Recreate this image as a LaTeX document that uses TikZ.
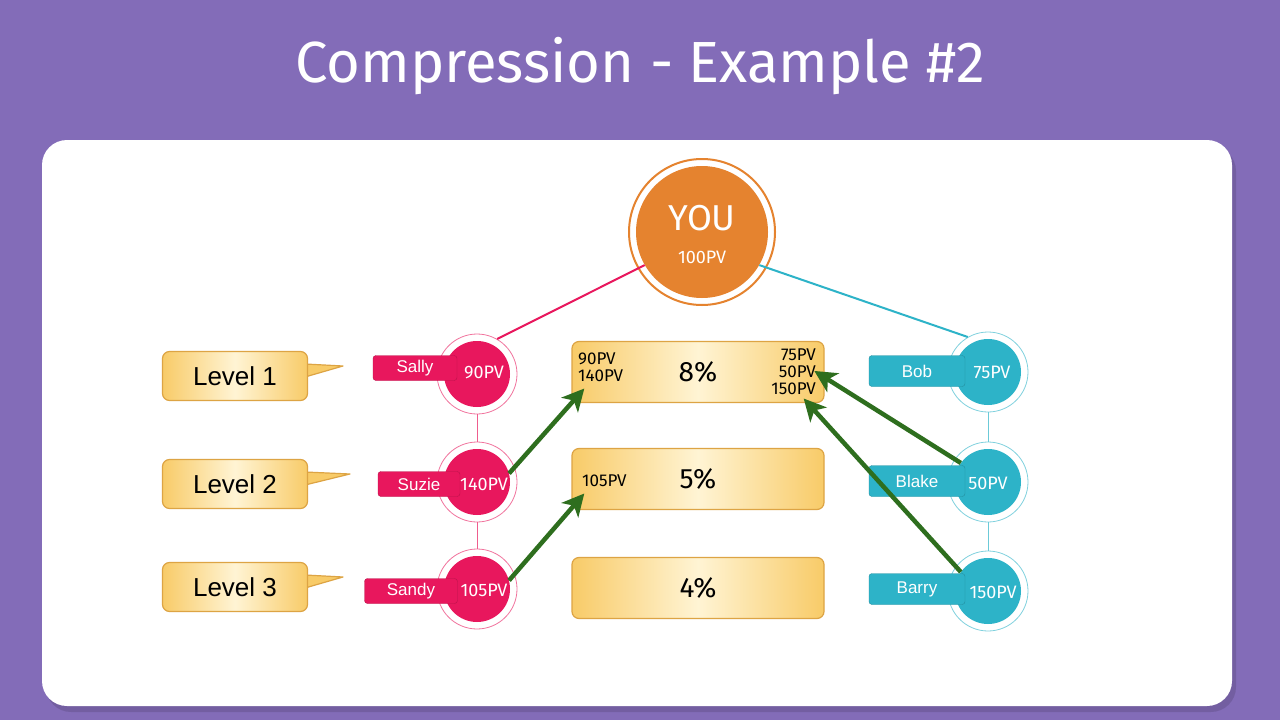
\documentclass[tikz,border=0pt]{standalone}
\usepackage{fontspec}
\setmainfont{Fira Sans}
\newfontfamily\arialish{Liberation Sans}
\usetikzlibrary{positioning,shadows,arrows.meta}
\definecolor{bgpurple}{HTML}{836CB8}
\definecolor{youorange}{HTML}{E5832F}
\definecolor{pinkc}{HTML}{E8175D}
\definecolor{tealc}{HTML}{2DB3C8}
\definecolor{boxlight}{HTML}{FFF4D4}
\definecolor{boxdark}{HTML}{F8CB68}
\definecolor{boxedge}{HTML}{DDA444}
\definecolor{arrgreen}{HTML}{2E6E1E}
\newcommand{\fs}[1]{\fontsize{#1}{#1}\selectfont}
\tikzset{
  gold/.style={draw=boxedge, line width=1.2pt, rounded corners=7pt, left color=boxdark, right color=boxdark, middle color=boxlight},
  level/.style={gold, minimum width=145pt, minimum height=49pt, font=\arialish\fs{26}, text depth=0pt},
  rate/.style={gold, minimum width=252pt, minimum height=61pt, font=\fs{28}},
  dot/.style={circle, fill=#1, minimum size=66pt, inner sep=0pt},
  ring/.style={circle, draw=#1!60, line width=0.8pt, minimum size=80pt, inner sep=0pt},
  dotpv/.style={text=white, font=\fs{18}, inner sep=0pt},
  tag/.style={draw=#1!80!black, fill=#1, rounded corners=3pt, text=white, font=\arialish\fs{17}, minimum height=25pt, inner sep=2pt},
  pv/.style={font=\fs{17}, align=left, inner sep=0pt},
  climb/.style={arrgreen, line width=4.5pt, -{Stealth[length=22pt,width=22pt,inset=6pt]}, shorten >=-2pt}
}
\begin{document}
\begin{tikzpicture}[x=1pt,y=-1pt]
\fill[bgpurple] (0,0) rectangle (1280,720);
\useasboundingbox (0,0) rectangle (1280,720);
\fill[black, opacity=0.12, rounded corners=25pt] (46,146) rectangle (1236,712);
\fill[white, rounded corners=25pt] (42,140) rectangle (1232,706);
\node[text=white, font=\fs{58}] (title) at (640,66) {Compression - Example \#2};

% you
\node[circle, draw=youorange, line width=2pt, fill=white, minimum size=146pt] (youring) at (702,232) {};
\node[dot=youorange, minimum size=132pt] (you) at (702,232) {};
\node[text=white, font=\fs{36}] (youtxt) at (702,218) {YOU};
\node[text=white, font=\fs{18}] (youpv) at (702,257) {100PV};

% legs
\foreach \nm/\pv/\y in {sally/90PV/374, suzie/140PV/482, sandy/105PV/589}{
  \node[ring=pinkc] (\nm r) at (477,\y) {};
  \node[dot=pinkc] (\nm) at (477,\y) {};
}
\foreach \nm/\pv/\y in {bob/75PV/372, blake/50PV/482, barry/150PV/591}{
  \node[ring=tealc] (\nm r) at (988,\y) {};
  \node[dot=tealc] (\nm) at (988,\y) {};
}
\draw[pinkc!70, line width=1pt] (sallyr) -- (suzier) (suzier) -- (sandyr);
\draw[tealc!70, line width=1pt] (bobr) -- (blaker) (blaker) -- (barryr);
\draw[pinkc, line width=2pt] (you.210) -- (sallyr.60);
\draw[tealc, line width=2pt] (you.330) -- (bobr.120);

\node[tag=pinkc, minimum width=84pt] (sallyt) at (415,368) {Sally};
\node[tag=pinkc, minimum width=82pt] (suziet) at (419,484) {Suzie};
\node[tag=pinkc, minimum width=93pt] (sandyt) at (411,591) {Sandy};
\node[tag=tealc, minimum width=96pt, minimum height=31pt] (bobt) at (917,371) {Bob};
\node[tag=tealc, minimum width=96pt, minimum height=31pt] (blaket) at (917,481) {Blake};
\node[tag=tealc, minimum width=96pt, minimum height=31pt] (barryt) at (917,589) {Barry};
\node[dotpv] (sallypv) at (484,372) {90PV};
\node[dotpv] (suziepv) at (484,484) {140PV};
\node[dotpv] (sandypv) at (484,590) {105PV};
\node[dotpv] (bobpv) at (992,372) {75PV};
\node[dotpv] (blakepv) at (988,483) {50PV};
\node[dotpv] (barrypv) at (993,592) {150PV};

% levels
\foreach \n/\y/\tip in {1/376/343, 2/484/350, 3/587/343}{
  \fill[boxdark, draw=boxedge, line width=1.2pt, line join=round]
    (305,\y-12) -- (\tip,\y-10) -- (305,\y+1) -- cycle;
  \node[level] (lvl\n) at (235,\y) {Level \n};
}

% rates
\node[rate] (r8) at (698,372) {8\%};
\node[rate] (r5) at (698,479) {5\%};
\node[rate] (r4) at (698,588) {4\%};
\node[pv, anchor=west] (r8l) at (578,367) {90PV\\140PV};
\node[pv, anchor=east, align=right] (r8r) at (816,372) {75PV\\50PV\\150PV};
\node[pv, anchor=west] (r5l) at (582,481) {105PV};

\draw[climb] (suzie.15) -- (583,390);
\draw[climb] (sandy.15) -- (583,495);
\draw[climb] (blake.145) -- (r8r.east);
\draw[climb] (barry.145) -- (805,400);
\end{tikzpicture}
\end{document}
